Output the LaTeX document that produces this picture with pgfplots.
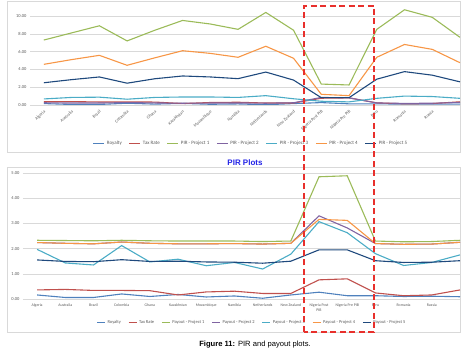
\documentclass[border=0pt]{standalone}
\usepackage{fontspec}
\setmainfont{Carlito}
\newfontfamily\arialf{Liberation Sans}
\usepackage{pgfplots}
\usepackage{pgfplotstable}
\pgfplotsset{compat=1.18}

\definecolor{cRoy}{HTML}{4F81BD}
\definecolor{cTax}{HTML}{C0504D}
\definecolor{cP1}{HTML}{9BBB59}
\definecolor{cP2}{HTML}{8064A2}
\definecolor{cP3}{HTML}{4BACC6}
\definecolor{cP4}{HTML}{F79646}
\definecolor{cP5}{HTML}{1F497D}
\definecolor{gridc}{HTML}{D9D9D9}
\definecolor{tickc}{HTML}{595959}
\definecolor{boxred}{HTML}{E8302C}
\definecolor{titleblue}{HTML}{2323E6}

\pgfplotstableread{
x roy tax p1 p2 p3 p4 p5
0 0.16 0.36 7.30 0.25 0.68 4.57 2.50
1 0.06 0.38 8.10 0.22 0.85 5.10 2.85
2 0.06 0.34 8.90 0.22 0.88 5.58 3.15
3 0.20 0.34 7.20 0.27 0.65 4.46 2.45
4 0.10 0.33 8.40 0.23 0.85 5.30 2.95
5 0.18 0.16 9.50 0.20 0.90 6.10 3.26
6 0.08 0.28 9.10 0.22 0.90 5.80 3.15
7 0.12 0.31 8.50 0.23 0.85 5.36 2.96
8 0.03 0.22 10.40 0.20 1.05 6.60 3.70
9 0.16 0.22 8.40 0.25 0.70 5.25 2.80
10 0.27 0.76 2.35 0.85 0.42 1.20 0.82
11 0.13 0.80 2.25 0.80 0.35 1.05 0.82
12 0.13 0.24 8.50 0.23 0.75 5.36 2.90
13 0.10 0.13 10.70 0.18 1.00 6.80 3.75
14 0.11 0.16 9.85 0.20 0.95 6.25 3.35
15 0.09 0.36 7.60 0.28 0.75 4.75 2.60
}\pir

\pgfplotstableread{
x roy tax p1 p2 p3 p4 p5
0 0.16 0.36 2.33 2.24 1.97 2.24 1.55
1 0.06 0.38 2.32 2.21 1.43 2.21 1.49
2 0.06 0.34 2.31 2.19 1.35 2.19 1.48
3 0.20 0.34 2.33 2.26 2.12 2.26 1.56
4 0.10 0.33 2.31 2.21 1.47 2.21 1.49
5 0.18 0.16 2.30 2.19 1.58 2.19 1.50
6 0.08 0.28 2.30 2.19 1.32 2.19 1.47
7 0.12 0.31 2.30 2.20 1.45 2.20 1.46
8 0.03 0.22 2.28 2.18 1.19 2.18 1.42
9 0.16 0.22 2.30 2.21 1.78 2.21 1.50
10 0.27 0.76 4.85 3.30 3.07 3.16 1.95
11 0.13 0.80 4.89 2.82 2.63 3.12 1.95
12 0.13 0.24 2.30 2.20 1.80 2.20 1.52
13 0.10 0.13 2.27 2.17 1.33 2.17 1.45
14 0.11 0.16 2.28 2.18 1.45 2.18 1.46
15 0.09 0.36 2.33 2.25 1.75 2.25 1.52
}\pay

\pgfplotsset{
  exstyle/.style={
    scale only axis,
    xmin=-0.5, xmax=15,
    axis line style={draw=none},
    major tick length=0pt,
    ymajorgrids,
    grid style={gridc, line width=0.5pt},
    xtick={0,...,15},
    tick label style={text=tickc},
    yticklabel style={font=\fontsize{4.5}{5}\selectfont,
      /pgf/number format/fixed,
      /pgf/number format/fixed zerofill,
      /pgf/number format/precision=2,
      /pgf/number format/assume math mode=true},
    every axis plot/.append style={line width=1.1pt, mark=none},
    legend columns=-1,
    legend style={draw=none, fill=none, text=tickc,
      /tikz/every even column/.append style={column sep=5pt}},
    legend cell align=left,
  }
}

\begin{document}
\begin{tikzpicture}[x=1pt,y=1pt]
\path[use as bounding box] (0,0) rectangle (474,353);
\draw[gridc, line width=0.5pt] (7,201) rectangle (460,352);
\draw[gridc, line width=0.5pt] (7,21) rectangle (460,186);

% Top: PIR
\begin{axis}[exstyle,
  at={(30pt,248pt)}, anchor=south west,
  width=430pt, height=97.9pt,
  ymin=0, ymax=11, ytick={0,2,...,10},
  xticklabels={Algeria,Australia,Brazil,Colombia,Ghana,Kazakhstan,Mozambique,Namibia,Netherlands,New Zealand,Nigeria Post PIB,Nigeria Pre PIB,Peru,Romania,Russia,{}},
  xticklabel style={rotate=42, anchor=north east, font=\fontsize{4.3}{5}\selectfont},
  legend style={at={(0.514,-0.39)}, anchor=center, font=\fontsize{5}{6}\selectfont},
  legend image code/.code={\draw[#1, line width=1.1pt] (0pt,0pt) -- (11pt,0pt);},
]
\addplot[cRoy] table[x=x,y=roy] {\pir}; \addlegendentry{Royalty}
\addplot[cTax] table[x=x,y=tax] {\pir}; \addlegendentry{Tax Rate}
\addplot[cP1] table[x=x,y=p1] {\pir}; \addlegendentry{PIR - Project 1}
\addplot[cP2] table[x=x,y=p2] {\pir}; \addlegendentry{PIR - Project 2}
\addplot[cP3] table[x=x,y=p3] {\pir}; \addlegendentry{PIR - Project 3}
\addplot[cP4] table[x=x,y=p4] {\pir}; \addlegendentry{PIR - Project 4}
\addplot[cP5] table[x=x,y=p5] {\pir}; \addlegendentry{PIR - Project 5}
\end{axis}

\node[font=\arialf\bfseries\fontsize{8}{9}\selectfont, text=titleblue] at (245,190) {PIR Plots};

% Bottom: payout
\begin{axis}[exstyle,
  at={(23pt,54pt)}, anchor=south west,
  width=437pt, height=126pt,
  ymin=0, ymax=5, ytick={0,1,...,5},
  xticklabels={Algeria,Australia,Brazil,Colombia,Ghana,Kazakhstan,Mozambique,Namibia,Netherlands,New Zealand,{Nigeria Post\\PIB},Nigeria Pre PIB,Peru,Romania,Russia,{}},
  xticklabel style={align=center, font=\fontsize{3.9}{5}\selectfont, yshift=-1pt},
  legend style={at={(0.524,-0.19)}, anchor=center, font=\fontsize{4.5}{5}\selectfont},
  legend image code/.code={\draw[#1, line width=1.1pt] (0pt,0pt) -- (8pt,0pt);},
]
\addplot[cRoy] table[x=x,y=roy] {\pay}; \addlegendentry{Royalty}
\addplot[cTax] table[x=x,y=tax] {\pay}; \addlegendentry{Tax Rate}
\addplot[cP1] table[x=x,y=p1] {\pay}; \addlegendentry{Payout - Project 1}
\addplot[cP2] table[x=x,y=p2] {\pay}; \addlegendentry{Payout - Project 2}
\addplot[cP3] table[x=x,y=p3] {\pay}; \addlegendentry{Payout - Project 3}
\addplot[cP4] table[x=x,y=p4] {\pay}; \addlegendentry{Payout - Project 4}
\addplot[cP5] table[x=x,y=p5] {\pay}; \addlegendentry{Payout - Project 5}
\end{axis}

\draw[boxred, line width=1.6pt, dash pattern=on 6pt off 3.5pt] (304,21) rectangle (374,347);

\node[font=\arialf\fontsize{7.6}{9}\selectfont] at (255,8) {\textbf{Figure 11:} PIR and payout plots.};
\end{tikzpicture}
\end{document}
